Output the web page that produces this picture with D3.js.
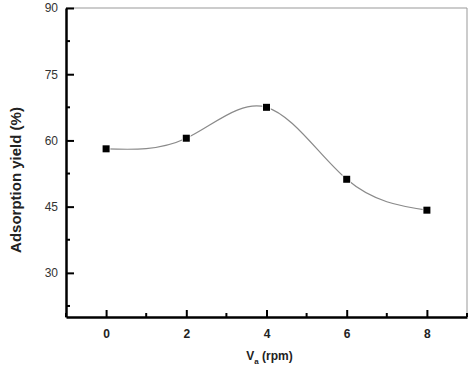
<!DOCTYPE html>
<html>
<head>
<meta charset="utf-8">
<script src="https://cdn.jsdelivr.net/npm/d3@7"></script>
<style>
  body { margin: 0; background: #fff; }
  svg { font-family: "Liberation Sans", Arial, sans-serif; }
</style>
</head>
<body>
<div id="chart"></div>
<script>
// Data
const speeds = [0, 2, 4, 6, 8];
const yieldValues = [58.1, 60.5, 67.5, 51.2, 44.2];
const xTicks = [0, 2, 4, 6, 8];
const yTicks = [30, 45, 60, 75, 90];

const W = 474, H = 370;
const margin = { top: 8, right: 7, bottom: 53, left: 66 };
const width = W - margin.left - margin.right;
const height = H - margin.top - margin.bottom;

const svg = d3.select("#chart").append("svg")
    .attr("width", W)
    .attr("height", H);

const g = svg.append("g")
    .attr("transform", `translate(${margin.left},${margin.top})`);

const x = d3.scaleLinear().domain([-1, 9]).range([0, width]);
const y = d3.scaleLinear().domain([20, 90]).range([height, 0]);

// thin grey frame on top and right
g.append("line")
    .attr("x1", 0).attr("x2", width).attr("y1", 0).attr("y2", 0)
    .attr("stroke", "#999").attr("stroke-width", 1);
g.append("line")
    .attr("x1", width).attr("x2", width).attr("y1", 0).attr("y2", height)
    .attr("stroke", "#999").attr("stroke-width", 1);

// minor ticks
const xMinor = d3.range(-1, 10, 1).filter(v => xTicks.indexOf(v) < 0);
const yMinor = d3.range(22.5, 90, 15);

g.selectAll(".xminor").data(xMinor).enter().append("line")
    .attr("x1", d => x(d)).attr("x2", d => x(d))
    .attr("y1", height).attr("y2", height - 4)
    .attr("stroke", "#000").attr("stroke-width", 2);
g.selectAll(".yminor").data(yMinor).enter().append("line")
    .attr("x1", 0).attr("x2", 4)
    .attr("y1", d => y(d)).attr("y2", d => y(d))
    .attr("stroke", "#000").attr("stroke-width", 2);

// x axis
const xAxis = g.append("g")
    .attr("transform", `translate(0,${height})`)
    .call(d3.axisBottom(x).tickValues(xTicks).tickSize(-7).tickPadding(12).tickSizeOuter(0));
xAxis.select(".domain").attr("stroke-width", 2.5);
xAxis.selectAll(".tick line").attr("stroke-width", 2);
xAxis.selectAll(".tick text")
    .attr("font-size", 12).attr("font-weight", "bold").attr("fill", "#222")
    .attr("font-family", "Liberation Sans, Arial, sans-serif");

// y axis
const yAxis = g.append("g")
    .call(d3.axisLeft(y).tickValues(yTicks).tickSize(-8).tickPadding(8).tickSizeOuter(0));
yAxis.select(".domain").attr("stroke-width", 2.5);
yAxis.selectAll(".tick line").attr("stroke-width", 2);
yAxis.selectAll(".tick text")
    .attr("font-size", 12).attr("fill", "#333")
    .attr("font-family", "Liberation Sans, Arial, sans-serif");

// smooth curve
const pts = speeds.map((s, i) => [s, yieldValues[i]]);
const line = d3.line()
    .x(d => x(d[0]))
    .y(d => y(d[1]))
    .curve(d3.curveNatural);

g.append("path")
    .datum(pts)
    .attr("d", line)
    .attr("fill", "none")
    .attr("stroke", "#8a8a8a")
    .attr("stroke-width", 1.2);

// square markers
const s = 7;
g.selectAll(".pt").data(pts).enter().append("rect")
    .attr("x", d => x(d[0]) - s / 2)
    .attr("y", d => y(d[1]) - s / 2)
    .attr("width", s).attr("height", s)
    .attr("fill", "#000")
    .attr("stroke", "#fff")
    .attr("stroke-width", 1.5)
    .attr("paint-order", "stroke");

// axis titles
const xt = svg.append("text")
    .attr("x", margin.left + x(4) + 3)
    .attr("y", 360)
    .attr("text-anchor", "middle")
    .attr("font-size", 12)
    .attr("font-weight", "bold")
    .attr("fill", "#222");
xt.append("tspan").text("V");
xt.append("tspan").attr("font-size", 8).attr("dy", 4).text("a");
xt.append("tspan").attr("dy", -4).text(" (rpm)");

svg.append("text")
    .attr("transform", "translate(21,180) rotate(-90)")
    .attr("text-anchor", "middle")
    .attr("font-size", 15)
    .attr("font-weight", "bold")
    .attr("fill", "#222")
    .text("Adsorption yield (%)");
</script>
</body>
</html>
